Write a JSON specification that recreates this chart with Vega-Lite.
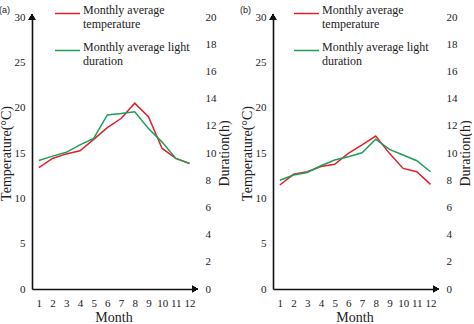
{
  "$schema": "https://vega.github.io/schema/vega-lite/v6.json",
  "padding": {"left": -1, "top": 0, "right": 0, "bottom": 0},
  "spacing": 9,
  "config": {
    "font": "Liberation Serif",
    "view": {"stroke": null},
    "axis": {"labelFont": "Liberation Serif", "titleFont": "Liberation Serif", "labelFontSize": 11, "titleFontSize": 14, "titleFontWeight": "normal", "labelColor": "#222", "titleColor": "#222", "grid": false},
    "axisX": {"labelOverlap": false, "labelFlush": false},
    "legend": {"labelFont": "Liberation Serif", "labelFontSize": 12, "labelColor": "#222"},
    "title": {"font": "Liberation Sans", "fontSize": 9, "fontWeight": "normal", "color": "#222"}
  },
  "datasets": {
    "a": [
      {"month": 1, "temp": 13.4, "light": 9.45},
      {"month": 2, "temp": 14.4, "light": 9.77},
      {"month": 3, "temp": 14.9, "light": 10.05},
      {"month": 4, "temp": 15.25, "light": 10.6},
      {"month": 5, "temp": 16.5, "light": 11.07},
      {"month": 6, "temp": 17.8, "light": 12.8},
      {"month": 7, "temp": 18.8, "light": 12.9},
      {"month": 8, "temp": 20.5, "light": 13.03},
      {"month": 9, "temp": 19.0, "light": 11.8},
      {"month": 10, "temp": 15.5, "light": 10.8},
      {"month": 11, "temp": 14.4, "light": 9.6},
      {"month": 12, "temp": 13.85, "light": 9.24}
    ],
    "b": [
      {"month": 1, "temp": 11.47, "light": 8.0},
      {"month": 2, "temp": 12.65, "light": 8.38},
      {"month": 3, "temp": 12.94, "light": 8.57},
      {"month": 4, "temp": 13.5, "light": 9.06},
      {"month": 5, "temp": 13.75, "light": 9.48},
      {"month": 6, "temp": 14.96, "light": 9.72},
      {"month": 7, "temp": 15.9, "light": 10.02},
      {"month": 8, "temp": 16.87, "light": 11.02},
      {"month": 9, "temp": 14.96, "light": 10.27},
      {"month": 10, "temp": 13.3, "light": 9.85},
      {"month": 11, "temp": 12.94, "light": 9.43},
      {"month": 12, "temp": 11.54, "light": 8.62}
    ]
  },
  "resolve": {"scale": {"color": "independent", "x": "independent", "y": "independent"}, "legend": {"color": "independent"}},
  "hconcat": [
    {
      "title": {"text": "(a)", "anchor": "start", "frame": "bounds", "offset": -15},
      "width": 163,
      "height": 272,
      "data": {"name": "a"},
      "resolve": {"scale": {"y": "independent"}},
      "layer": [
        {
          "layer": [
            {
              "mark": {"type": "line", "strokeWidth": 1.5},
              "encoding": {
                "x": {"field": "month", "type": "quantitative", "title": "Month", "scale": {"domain": [0.5, 12.4], "nice": false, "zero": false}, "axis": {"values": [1,2,3,4,5,6,7,8,9,10,11,12], "labelOverlap": false, "labelSeparation": 0, "ticks": false, "domainColor": "#111", "domainWidth": 1.6, "labelPadding": 8, "titlePadding": 2}},
                "y": {"field": "temp", "type": "quantitative", "title": "Temperature(°C)", "scale": {"domain": [0, 30], "nice": false}, "axis": {"values": [0,5,10,15,20,25,30], "ticks": false, "domainColor": "#111", "domainWidth": 1.6, "labelPadding": 7, "titlePadding": 1}},
                "color": {"datum": "Monthly average temperature", "type": "nominal", "scale": {"domain": ["Monthly average temperature", "Monthly average light duration"], "range": ["#e0202a", "#1f9e5a"]}, "legend": {"title": null, "orient": "none", "legendX": 22, "legendY": -17, "symbolType": "stroke", "symbolSize": 625, "symbolStrokeWidth": 1.5, "rowPadding": 7, "labelLimit": 300, "labelBaseline": "alphabetic", "labelOffset": 2, "labelExpr": "datum.label == 'Monthly average temperature' ? ['Monthly average', 'temperature'] : ['Monthly average light', 'duration']", "encoding": {"labels": {"update": {"dy": {"value": 4}}}}}}
              }
            },
            {
              "mark": {"type": "point", "shape": "triangle-up", "filled": true, "fill": "#111", "stroke": null, "size": 45, "opacity": 1},
              "encoding": {
                "x": {"datum": 0.5, "type": "quantitative", "axis": {"values": [1,2,3,4,5,6,7,8,9,10,11,12], "labelOverlap": false}},
                "y": {"datum": 30, "type": "quantitative"}
              }
            },
            {
              "mark": {"type": "point", "shape": "triangle-right", "filled": true, "fill": "#111", "stroke": null, "size": 45, "opacity": 1},
              "encoding": {
                "x": {"datum": 12.4, "type": "quantitative", "axis": {"values": [1,2,3,4,5,6,7,8,9,10,11,12], "labelOverlap": false}},
                "y": {"datum": 0, "type": "quantitative"}
              }
            }
          ]
        },
        {
          "mark": {"type": "line", "strokeWidth": 1.5},
          "encoding": {
            "x": {"field": "month", "type": "quantitative", "title": "Month", "axis": {"values": [1,2,3,4,5,6,7,8,9,10,11,12], "labelOverlap": false}},
            "y": {"field": "light", "type": "quantitative", "title": "Duration(h)", "scale": {"domain": [0, 20], "nice": false}, "axis": {"orient": "right", "values": [0,2,4,6,8,10,12,14,16,18,20], "domain": false, "ticks": false, "labelPadding": 10, "titleAngle": 270, "titlePadding": 15}},
            "color": {"datum": "Monthly average light duration", "type": "nominal"}
          }
        }
      ]
    },
    {
      "title": {"text": "(b)", "anchor": "start", "frame": "bounds", "offset": -15},
      "width": 163,
      "height": 272,
      "data": {"name": "b"},
      "resolve": {"scale": {"y": "independent"}},
      "layer": [
        {
          "layer": [
            {
              "mark": {"type": "line", "strokeWidth": 1.5},
              "encoding": {
                "x": {"field": "month", "type": "quantitative", "title": "Month", "scale": {"domain": [0.5, 12.4], "nice": false, "zero": false}, "axis": {"values": [1,2,3,4,5,6,7,8,9,10,11,12], "labelOverlap": false, "labelSeparation": 0, "ticks": false, "domainColor": "#111", "domainWidth": 1.6, "labelPadding": 8, "titlePadding": 2}},
                "y": {"field": "temp", "type": "quantitative", "title": "Temperature(°C)", "scale": {"domain": [0, 30], "nice": false}, "axis": {"values": [0,5,10,15,20,25,30], "ticks": false, "domainColor": "#111", "domainWidth": 1.6, "labelPadding": 7, "titlePadding": 1}},
                "color": {"datum": "Monthly average temperature", "type": "nominal", "scale": {"domain": ["Monthly average temperature", "Monthly average light duration"], "range": ["#e0202a", "#1f9e5a"]}, "legend": {"title": null, "orient": "none", "legendX": 20, "legendY": -17, "symbolType": "stroke", "symbolSize": 625, "symbolStrokeWidth": 1.5, "rowPadding": 7, "labelLimit": 300, "labelBaseline": "alphabetic", "labelOffset": 2, "labelExpr": "datum.label == 'Monthly average temperature' ? ['Monthly average', 'temperature'] : ['Monthly average light', 'duration']", "encoding": {"labels": {"update": {"dy": {"value": 4}}}}}}
              }
            },
            {
              "mark": {"type": "point", "shape": "triangle-up", "filled": true, "fill": "#111", "stroke": null, "size": 45, "opacity": 1},
              "encoding": {
                "x": {"datum": 0.5, "type": "quantitative", "axis": {"values": [1,2,3,4,5,6,7,8,9,10,11,12], "labelOverlap": false}},
                "y": {"datum": 30, "type": "quantitative"}
              }
            },
            {
              "mark": {"type": "point", "shape": "triangle-right", "filled": true, "fill": "#111", "stroke": null, "size": 45, "opacity": 1},
              "encoding": {
                "x": {"datum": 12.4, "type": "quantitative", "axis": {"values": [1,2,3,4,5,6,7,8,9,10,11,12], "labelOverlap": false}},
                "y": {"datum": 0, "type": "quantitative"}
              }
            }
          ]
        },
        {
          "mark": {"type": "line", "strokeWidth": 1.5},
          "encoding": {
            "x": {"field": "month", "type": "quantitative", "title": "Month", "axis": {"values": [1,2,3,4,5,6,7,8,9,10,11,12], "labelOverlap": false}},
            "y": {"field": "light", "type": "quantitative", "title": "Duration(h)", "scale": {"domain": [0, 20], "nice": false}, "axis": {"orient": "right", "values": [0,2,4,6,8,10,12,14,16,18,20], "domain": false, "ticks": false, "labelPadding": 10, "titleAngle": 270, "titlePadding": 15}},
            "color": {"datum": "Monthly average light duration", "type": "nominal"}
          }
        }
      ]
    }
  ]
}
